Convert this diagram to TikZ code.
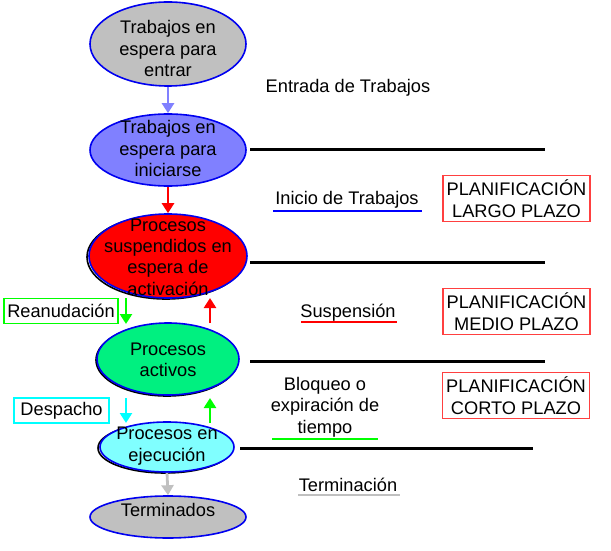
\documentclass[tikz,border=0pt]{standalone}
\usepackage{fontspec}
\setmainfont{Liberation Sans}
\usetikzlibrary{shapes.geometric,arrows.meta}
\definecolor{egray}{HTML}{C0C0C0}
\definecolor{eblue}{HTML}{8080FF}
\definecolor{ered}{HTML}{FF0000}
\definecolor{egreen}{HTML}{00F080}
\definecolor{ecyan}{HTML}{80FFFF}
\definecolor{eborder}{HTML}{0000F0}
\definecolor{lgreen}{HTML}{00FF00}
\definecolor{lcyan}{HTML}{00FFFF}
\definecolor{boxred}{HTML}{FF4040}
\begin{document}
\begin{tikzpicture}[x=1bp,y=-1bp,
  font=\fontsize{18.3}{21.5}\selectfont,
  ell/.style={ellipse, draw=eborder, line width=1.6bp, inner sep=0pt},
  shade/.style={ellipse, draw=black, line width=1.6bp, inner sep=0pt},
  txt/.style={align=center, inner sep=0pt},
  arr/.style={line width=2.8bp, -{Triangle[width=12bp,length=10bp]}},
  sep/.style={line width=3bp, black},
  uline/.style={line width=2bp},
  plan/.style={draw=boxred, line width=1.5bp, fill=white, align=center,
    minimum width=147bp, minimum height=46bp, inner sep=0pt},
  tag/.style={line width=1.6bp, fill=white, inner sep=0pt, anchor=center}]
\useasboundingbox (0,0) rectangle (611,551);

% ellipses
\node[ell, fill=egray, minimum width=156bp, minimum height=84bp] (e1) at (168,44) {};
\node[txt] (t1) at (168,48.5) {Trabajos en\\espera para\\entrar};

\node[ell, fill=eblue, minimum width=156bp, minimum height=72bp] (e2) at (168,150) {};
\node[txt] (t2) at (168,148.5) {Trabajos en\\espera para\\iniciarse};

\node[shade, minimum width=158bp, minimum height=84bp] (s3) at (166,257) {};
\node[ell, fill=ered, minimum width=158bp, minimum height=84bp] (e3) at (168,256) {};
\node[txt] (t3) at (168,257) {Procesos\\suspendidos en\\espera de\\activación};

\node[shade, minimum width=142bp, minimum height=72bp] (s4) at (167,360) {};
\node[ell, fill=egreen, minimum width=142bp, minimum height=72bp] (e4) at (168,359) {};
\node[txt] (t4) at (168,360) {Procesos\\activos};

\node[shade, minimum width=134bp, minimum height=50bp] (s5) at (165,448) {};
\node[ell, fill=ecyan, minimum width=134bp, minimum height=50bp] (e5) at (167,447) {};
\node[txt] (t5) at (167,446) {Procesos en\\ejecución};

\node[ell, fill=egray, minimum width=156bp, minimum height=42bp] (e6) at (168,517) {};
\node[txt] (t6) at (168,510) {Terminados};

% main arrows
\draw[arr, eblue] (e1.south) -- (e2.north);
\draw[arr, ered] (e2.south) -- (e3.north);
\draw[arr, egray] (e5.south) -- (e6.north);

% side arrows
\coordinate (ra) at (126,298);
\coordinate (rb) at (126,324);
\coordinate (sa) at (210,323);
\coordinate (sb) at (210,298);
\coordinate (da) at (126,398);
\coordinate (db) at (126,423);
\coordinate (ba) at (210,423);
\coordinate (bb) at (210,398);
\draw[arr, lgreen] (ra) -- (rb);
\draw[arr, ered] (sa) -- (sb);
\draw[arr, lcyan] (da) -- (db);
\draw[arr, lgreen] (ba) -- (bb);

% tags
\node[tag, draw=lgreen, minimum width=114bp, minimum height=25bp] (reanud) at (61,311) {Reanudación};
\node[tag, draw=lcyan, minimum width=95bp, minimum height=25bp] (desp) at (61.5,410.5) {Despacho};

% separator lines
\coordinate (l1a) at (250,150); \coordinate (l1b) at (545,150);
\coordinate (l2a) at (250,262); \coordinate (l2b) at (545,262);
\coordinate (l3a) at (250,361); \coordinate (l3b) at (545,361);
\coordinate (l4a) at (240,448); \coordinate (l4b) at (533,448);
\draw[sep] (l1a) -- (l1b);
\draw[sep] (l2a) -- (l2b);
\draw[sep] (l3a) -- (l3b);
\draw[sep] (l4a) -- (l4b);

% stage labels
\node[txt] (entrada) at (348,88) {Entrada de Trabajos};
\node[txt] (inicio) at (347,200) {Inicio de Trabajos};
\node[txt] (susp) at (348,313) {Suspensión};
\node[txt] (bloq) at (325,407) {Bloqueo o\\expiración de\\tiempo};
\node[txt] (term) at (348,485) {Terminación};

\coordinate (u1a) at (273,211); \coordinate (u1b) at (422,211);
\coordinate (u2a) at (301,322); \coordinate (u2b) at (397,322);
\coordinate (u3a) at (272,439); \coordinate (u3b) at (378,439);
\coordinate (u4a) at (298,495); \coordinate (u4b) at (400,495);
\draw[uline, blue] (u1a) -- (u1b);
\draw[uline, red] (u2a) -- (u2b);
\draw[uline, lgreen] (u3a) -- (u3b);
\draw[uline, egray] (u4a) -- (u4b);

% planning boxes
\node[plan] (p1) at (516.5,198.5) {PLANIFICACIÓN\\LARGO PLAZO};
\node[plan] (p2) at (516.5,311.5) {PLANIFICACIÓN\\MEDIO PLAZO};
\node[plan] (p3) at (516,395.5) {PLANIFICACIÓN\\CORTO PLAZO};
\end{tikzpicture}
\end{document}
